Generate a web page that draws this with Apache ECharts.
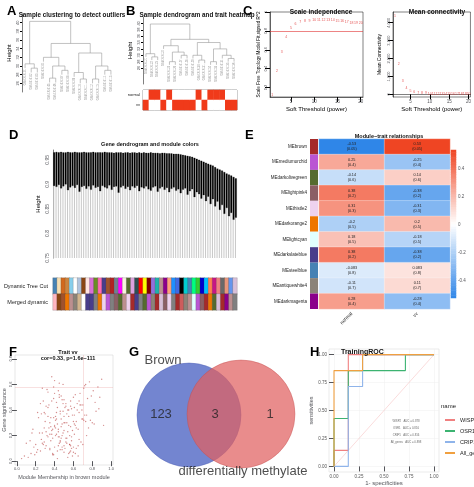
<!DOCTYPE html>
<html><head><meta charset="utf-8">
<script src="https://cdn.jsdelivr.net/npm/echarts@6/dist/echarts.min.js"></script>
<style>html,body{margin:0;padding:0;background:#fff}#c{width:474px;height:487px}</style>
</head><body><div id="c"></div>
<script>
// ---------- DATA ----------
const treeA = [40.3,[30.5,'L',[29.5,'L','L']],[35.2,[32,'L',[30,[27.2,'L','L'],[29,'L','L']]],[33,[28.5,'L',[27,'L','L']],[30,[27,'L','L'],[29,'L','L']]]]];
const namesA = ['GSM1616101','GSM1616102','GSM1616103','GSM1616104','GSM1616105','GSM1616106','GSM1616107','GSM1616108','GSM1616109','GSM1616110','GSM1616111','GSM1616112','GSM1616113','GSM1616114','GSM1616115'];
const treeB = [39.8,[30.5,'L',[29.5,'L','L']],[35,[33,'L',[31,[28,'L','L'],[30,'L','L']]],[34,[30,'L',[28.5,'L','L']],[32,[28,'L','L'],[30,'L',[29,'L','L']]]]]];
const namesB = ['GSM1616121','GSM1616122','GSM1616123','GSM1616124','GSM1616125','GSM1616126','GSM1616127','GSM1616128','GSM1616129','GSM1616130','GSM1616131','GSM1616132','GSM1616133','GSM1616134','GSM1616135','GSM1616136'];
const traitNormal = [0,1,1,0,1,0,0,0,0,1,0,1,1,1,0,0];
const traitVV     = [1,0,0,1,0,1,1,1,1,0,1,0,0,0,1,1];
const powers = [1,2,3,4,5,6,7,8,9,10,11,12,13,14,15,16,17,18,19,20];
const sftFit = [0.12,0.38,0.58,0.74,0.83,0.87,0.89,0.9,0.905,0.91,0.91,0.91,0.91,0.91,0.905,0.9,0.895,0.885,0.88,0.885];
const meanK = [4350,1700,720,360,210,130,90,65,50,40,33,28,24,21,19,17,15,14,13,12];
const lowerD = [0.897,0.895,0.899,0.892,0.896,0.9,0.888,0.894,0.897,0.893,0.899,0.885,0.895,0.897,0.891,0.896,0.889,0.898,0.893,0.895,0.886,0.897,0.894,0.892,0.898,0.889,0.895,0.896,0.883,0.894,0.897,0.891,0.895,0.888,0.896,0.893,0.897,0.886,0.894,0.892,0.896,0.89,0.887,0.894,0.896,0.885,0.892,0.895,0.889,0.893,0.884,0.891,0.894,0.887,0.89,0.882,0.889,0.892,0.879,0.886,0.89,0.874,0.884,0.88,0.871,0.878,0.866,0.875,0.86,0.87,0.855,0.865,0.848,0.858,0.84,0.852,0.835,0.842,0.828,0.832];
const upperD = [0.965,0.966,0.965,0.966,0.965,0.965,0.966,0.965,0.965,0.966,0.965,0.965,0.965,0.966,0.965,0.965,0.965,0.966,0.965,0.965,0.965,0.965,0.966,0.965,0.965,0.965,0.964,0.965,0.965,0.965,0.964,0.965,0.965,0.964,0.965,0.965,0.964,0.965,0.964,0.965,0.964,0.964,0.965,0.964,0.964,0.964,0.963,0.964,0.964,0.963,0.963,0.963,0.962,0.962,0.962,0.961,0.96,0.959,0.958,0.957,0.956,0.954,0.952,0.95,0.948,0.946,0.944,0.942,0.94,0.938,0.935,0.932,0.93,0.928,0.925,0.922,0.92,0.918,0.915,0.912];
const dynColors = ['#4682b4','#f5deb3','#d2691e','#cd853f','#87ceeb','#ffffff','#b0c4de','#8b4513','#ffe4e1','#da70d6','#6b8e23','#ff69b4','#483d8b','#a0522d','#b22222','#708090','#ff00ff','#f5f5dc','#556b2f','#dda0dd','#2f4f4f','#ff0000','#ffff00','#800000','#9370db','#20b2aa','#bc8f8f','#8b008b','#ffa07a','#1e90ff','#4169e1','#000000','#00ced1','#4682b4','#00ff7f','#32cd32','#0000cd','#00bfff','#ff7f50','#c71585','#f08080','#696969','#e9967a','#6495ed','#d8bfd8'];
const mergedColors = ['#ffb6c1','#8b4513','#a0522d','#ee7600','#bc8f8f','#8b8378','#d2b48c','#ffffff','#483d8b','#483d8b','#808080','#ee7600','#eed2ee','#ba55d3','#808080','#8b5f65','#556b2f','#bc8f8f','#eed2ee','#a52a2a','#483d8b','#808080','#556b2f','#ba55d3','#8b8378','#a52a2a','#d8bfd8','#8b5f65','#eed2ee','#808080','#a52a2a','#cd5c5c','#8b8378','#bc8f8f','#e0ffff','#ba55d3','#8b5f65','#a52a2a','#ee7600','#556b2f','#d8bfd8','#a52a2a','#8b008b','#bc8f8f','#808080'];
const modules = ['MEbrown','MEmediumorchid','MEdarkolivegreen','MElightpink4','MEthistle2','MEdarkorange2','MElightcyan','MEdarkslateblue','MEsteelblue','MEantiquewhite4','MEdarkmagenta'];
const moduleColors = ['#a52a2a','#ba55d3','#556b2f','#8b5f65','#eed2ee','#ee7600','#e0ffff','#483d8b','#4682b4','#8b8378','#8b008b'];
const traits = ['normal','vv'];
const corNormal = [-0.53,0.25,-0.14,0.38,0.31,-0.2,0.18,0.38,-0.083,-0.11,0.28];
const corVV = [0.53,-0.25,0.14,-0.38,-0.31,0.2,-0.18,-0.38,0.083,0.11,-0.28];
const pVals = ['0.05','0.4','0.6','0.2','0.3','0.5','0.5','0.2','0.8','0.7','0.4'];
const mmBrown = [0.42,0.55,0.31,0.68,0.25,0.47,0.62,0.38,0.51,0.73,0.19,0.44,0.58,0.35,0.81,0.29,0.66,0.49,0.4,0.57,0.12,0.7,0.33,0.53,0.45,0.6,0.22,0.77,0.37,0.5,0.64,0.28,0.86,0.41,0.56,0.15,0.69,0.34,0.48,0.59,0.26,0.75,0.43,0.52,0.08,0.63,0.36,0.46,0.71,0.3,0.54,0.39,0.83,0.21,0.61,0.44,0.5,0.67,0.32,0.57,0.18,0.74,0.4,0.48,0.9,0.27,0.65,0.35,0.55,0.45,0.6,0.05,0.79,0.42,0.52,0.24,0.7,0.38,0.47,0.62,0.33,0.88,0.5,0.56,0.14,0.72,0.43,0.37,0.58,0.29,0.66,0.46,0.53,0.78,0.2,0.61,0.39,0.49,0.84,0.31];
const gsVV = [0.21,0.35,0.12,0.44,0.08,0.27,0.52,0.18,0.3,0.6,0.05,0.25,0.41,0.1,0.55,0.15,0.38,0.22,0.28,0.47,0.03,0.33,0.19,0.37,0.14,0.5,0.09,0.62,0.24,0.07,0.45,0.13,0.58,0.32,0.2,0.06,0.4,0.26,0.11,0.36,0.17,0.49,0.29,0.43,0.04,0.31,0.16,0.39,0.57,0.1,0.23,0.34,0.46,0.07,0.42,0.12,0.3,0.53,0.2,0.08,0.11,0.36,0.27,0.48,0.64,0.14,0.25,0.09,0.4,0.19,0.31,0.02,0.51,0.38,0.15,0.22,0.44,0.06,0.33,0.28,0.35,0.5,0.24,0.13,0.16,0.59,0.42,0.21,0.1,0.26,0.47,0.37,0.18,0.32,0.13,0.29,0.05,0.45,0.39,0.23];
const mmBrown2 = [0.35,0.48,0.52,0.41,0.63,0.29,0.57,0.44,0.38,0.69,0.46,0.33,0.55,0.6,0.27,0.5,0.72,0.4,0.45,0.58,0.36,0.65,0.23,0.53,0.47,0.8,0.31,0.43,0.61,0.39,0.56,0.49,0.17,0.66,0.42,0.54,0.3,0.74,0.37,0.51,0.59,0.45,0.26,0.68,0.48,0.34,0.62,0.41,0.87,0.52,0.1,0.57,0.39,0.46,0.71,0.32,0.5,0.64,0.44,0.28,0.55,0.36,0.76,0.47,0.4,0.6,0.22,0.53,0.43,0.67,0.35,0.49,0.82,0.58,0.3,0.45,0.63,0.38,0.51,0.7,0.42,0.25,0.56,0.48,0.61,0.33,0.92,0.46,0.54,0.4,0.16,0.59,0.37,0.73,0.44,0.5,0.27,0.65,0.41,0.57];
const gsVV2 = [0.3,0.09,0.45,0.2,0.26,0.38,0.12,0.55,0.05,0.33,0.16,0.42,0.28,0.07,0.22,0.48,0.36,0.11,0.61,0.19,0.27,0.04,0.34,0.14,0.51,0.3,0.43,0.08,0.21,0.58,0.13,0.39,0.25,0.17,0.46,0.03,0.31,0.2,0.66,0.1,0.24,0.52,0.37,0.15,0.29,0.44,0.06,0.35,0.41,0.18,0.14,0.27,0.49,0.09,0.32,0.56,0.12,0.4,0.23,0.47,0.06,0.34,0.26,0.18,0.53,0.11,0.38,0.3,0.02,0.44,0.21,0.6,0.29,0.16,0.37,0.5,0.1,0.25,0.42,0.13,0.33,0.45,0.07,0.2,0.36,0.54,0.28,0.15,0.4,0.63,0.22,0.04,0.47,0.31,0.19,0.35,0.57,0.12,0.26,0.43];
const vennLabels = ['Brown','differentially methylate'];
const vennCounts = [123,3,1];
const rocNames = ['WISP2','OSR1','CRIP1','All_genes'];
const rocColors = ['#f08080','#3cb371','#8fb4ea','#f0a040'];
const rocFPR = [[0,0,0.143,0.143,1],[0,0,0.143,0.143,0.714,0.714,1],[0,0.143,0.143,0.286,0.286,1],[0,0,0.286,0.286,1]];
const rocTPR = [[0,0.143,0.143,1,1],[0,0.429,0.429,0.857,0.857,1,1],[0,0,0.714,0.714,1,1],[0,0.857,0.857,1,1]];
const rocAUC = ['0.878','0.816','0.816','0.898'];

// ---------- HELPERS ----------
const FONT = 'Liberation Sans';
function layoutTree(t, names, hang){
  const leaves=[], segs=[]; let idx=0;
  function rec(n, ph){
    if(typeof n==='string'){ const b=ph-hang; leaves.push({name:names[idx], value:[idx+1,b]}); idx++; return {x:idx,h:b}; }
    const h=n[0]; const a=rec(n[1],h), c=rec(n[2],h);
    segs.push({coords:[[a.x,a.h],[a.x,h],[c.x,h],[c.x,c.h]]});
    return {x:(a.x+c.x)/2,h};
  }
  rec(t,t[0]); return {leaves,segs};
}
function ax(g, o){ return Object.assign({gridIndex:g, axisLine:{show:true,lineStyle:{color:'#000',width:0.5}}, axisTick:{length:2,lineStyle:{width:0.5}}, axisLabel:{fontSize:4.5,color:'#222',fontFamily:FONT,margin:2}, splitLine:{show:false}}, o); }
function hid(g, o){ return Object.assign({gridIndex:g, show:false, splitLine:{show:false}}, o); }

const A = layoutTree(treeA, namesA, 1.0);
const B = layoutTree(treeB, namesB, 1.0);

const grids=[], xAxes=[], yAxes=[], series=[], visualMaps=[];
function gridAdd(o){ grids.push(o); return grids.length-1; }
const dendLabel = {show:true,formatter:p=>p.name,rotate:90,position:'bottom',align:'right',verticalAlign:'middle',distance:1,fontSize:2.6,color:'#777',fontFamily:FONT};

// A
let g = gridAdd({left:22,top:14,width:92,height:78});
xAxes.push(hid(g,{type:'value',min:0.5,max:namesA.length+0.5}));
yAxes.push(ax(g,{type:'value',min:24,max:42,name:'Height',nameLocation:'middle',nameGap:10,nameTextStyle:{fontSize:6,fontFamily:FONT},axisLabel:{fontSize:4,rotate:90,margin:2,customValues:[26,28,30,32,34,36,38,40]},axisTick:{customValues:[26,28,30,32,34,36,38,40],length:2}}));
series.push({type:'lines',coordinateSystem:'cartesian2d',xAxisIndex:xAxes.length-1,yAxisIndex:yAxes.length-1,polyline:true,data:A.segs,lineStyle:{color:'#999',width:0.6,opacity:1},silent:true});
series.push({type:'scatter',xAxisIndex:xAxes.length-1,yAxisIndex:yAxes.length-1,symbolSize:0,data:A.leaves,label:dendLabel});

// B dendro
g = gridAdd({left:143,top:17,width:94,height:67});
xAxes.push(hid(g,{type:'value',min:0.5,max:namesB.length+0.5}));
yAxes.push(ax(g,{type:'value',min:21,max:42,name:'Height',nameLocation:'middle',nameGap:10,nameTextStyle:{fontSize:6,fontFamily:FONT},axisLabel:{fontSize:4,rotate:90,margin:2,customValues:[26,28,30,32,34,36,38,40]},axisTick:{customValues:[26,28,30,32,34,36,38,40],length:2}}));
series.push({type:'lines',coordinateSystem:'cartesian2d',xAxisIndex:xAxes.length-1,yAxisIndex:yAxes.length-1,polyline:true,data:B.segs,lineStyle:{color:'#999',width:0.6,opacity:1},silent:true});
series.push({type:'scatter',xAxisIndex:xAxes.length-1,yAxisIndex:yAxes.length-1,symbolSize:0,data:B.leaves,label:dendLabel});
// B heat
g = gridAdd({left:143,top:90,width:94,height:20,show:true,borderColor:'#000',borderWidth:0.5});
xAxes.push(hid(g,{type:'category',data:namesB}));
yAxes.push(ax(g,{type:'category',data:['vv','normal'],axisLine:{show:false},axisTick:{show:false},axisLabel:{fontSize:4,color:'#222',margin:3}}));
const bHeat=[]; namesB.forEach((n,i)=>{bHeat.push([i,1,traitNormal[i]]); bHeat.push([i,0,traitVV[i]]);});
series.push({type:'heatmap',xAxisIndex:xAxes.length-1,yAxisIndex:yAxes.length-1,data:bHeat});
visualMaps.push({type:'piecewise',show:false,seriesIndex:series.length-1,dimension:2,pieces:[{value:0,color:'#ffffff'},{value:1,color:'#f03a1a'}]});

// C1
g = gridAdd({left:270,top:12,width:93,height:85,show:true,borderColor:'#000',borderWidth:0.5});
xAxes.push(ax(g,{type:'value',min:0.5,max:20.5,name:'Soft Threshold (power)',nameLocation:'middle',nameGap:9,nameTextStyle:{fontSize:6,fontFamily:FONT},axisLabel:{fontSize:4.5,margin:2,customValues:[5,10,15,20]},axisTick:{customValues:[5,10,15,20]}}));
yAxes.push(ax(g,{type:'value',min:0.1,max:1.0,name:'Scale Free Topology Model Fit,signed R^2',nameLocation:'middle',nameGap:9,nameTextStyle:{fontSize:4.6,fontFamily:FONT},axisLabel:{fontSize:4,rotate:90,margin:2,customValues:[0.2,0.4,0.6,0.8,1.0]},axisTick:{customValues:[0.2,0.4,0.6,0.8,1.0]}}));
series.push({type:'scatter',xAxisIndex:xAxes.length-1,yAxisIndex:yAxes.length-1,symbolSize:0,data:powers.map((p,i)=>[p,sftFit[i]]),label:{show:true,position:'inside',formatter:p=>p.value[0],fontSize:3.5,color:'#e03030'},markLine:{silent:true,symbol:'none',label:{show:false},lineStyle:{color:'#e03030',type:'solid',width:0.6},data:[{yAxis:0.8}]}});
// C2
g = gridAdd({left:393,top:12,width:78,height:85,show:true,borderColor:'#000',borderWidth:0.5});
xAxes.push(ax(g,{type:'value',min:0.5,max:20.5,name:'Soft Threshold (power)',nameLocation:'middle',nameGap:9,nameTextStyle:{fontSize:6,fontFamily:FONT},axisLabel:{fontSize:4.5,margin:2,customValues:[5,10,15,20]},axisTick:{customValues:[5,10,15,20]}}));
yAxes.push(ax(g,{type:'value',min:-150,max:4600,name:'Mean Connectivity',nameLocation:'middle',nameGap:11,nameTextStyle:{fontSize:5,fontFamily:FONT},axisLabel:{fontSize:4,rotate:90,margin:2,customValues:[0,1000,2000,3000,4000]},axisTick:{customValues:[0,1000,2000,3000,4000]}}));
series.push({type:'scatter',xAxisIndex:xAxes.length-1,yAxisIndex:yAxes.length-1,symbolSize:0,data:powers.map((p,i)=>[p,meanK[i]]),label:{show:true,position:'inside',formatter:p=>p.value[0],fontSize:3.5,color:'#e03030'}});

// D dendro
g = gridAdd({left:53,top:150,width:184,height:108});
const dCat = lowerD.map((v,i)=>i);
xAxes.push(hid(g,{type:'category',data:dCat}));
yAxes.push(ax(g,{type:'value',min:0.75,max:0.97,name:'Height',nameLocation:'middle',nameGap:12,nameTextStyle:{fontSize:6,fontFamily:FONT},axisLabel:{fontSize:5,rotate:90,margin:3,customValues:[0.75,0.8,0.85,0.9,0.95]},axisTick:{customValues:[0.75,0.8,0.85,0.9,0.95]}}));
let xi=xAxes.length-1, yi=yAxes.length-1;
series.push({type:'bar',xAxisIndex:xi,yAxisIndex:yi,data:lowerD,barWidth:0.5,itemStyle:{color:'#c8c8c8'},barGap:'-100%',barCategoryGap:'0%',silent:true});
series.push({type:'bar',xAxisIndex:xi,yAxisIndex:yi,stack:'d',data:lowerD,itemStyle:{color:'rgba(0,0,0,0)'},barGap:'-100%',barCategoryGap:'0%',silent:true});
series.push({type:'bar',xAxisIndex:xi,yAxisIndex:yi,stack:'d',data:upperD.map((u,i)=>+(u-lowerD[i]).toFixed(4)),itemStyle:{color:'#000',borderColor:'#000',borderWidth:0.3},barGap:'-100%',barCategoryGap:'0%',silent:true});
// D strips
g = gridAdd({left:53,top:278,width:184,height:32});
const palette = Array.from(new Set(dynColors.concat(mergedColors)));
xAxes.push(hid(g,{type:'category',data:dynColors.map((c,i)=>i)}));
yAxes.push(ax(g,{type:'category',data:['Merged dynamic','Dynamic Tree Cut'],axisLine:{show:false},axisTick:{show:false},axisLabel:{fontSize:5.5,color:'#222',margin:5}}));
const strip=[]; dynColors.forEach((c,i)=>strip.push([i,1,palette.indexOf(c)])); mergedColors.forEach((c,i)=>strip.push([i,0,palette.indexOf(c)]));
series.push({type:'heatmap',xAxisIndex:xAxes.length-1,yAxisIndex:yAxes.length-1,data:strip,itemStyle:{borderColor:'#444',borderWidth:0.2}});
visualMaps.push({type:'piecewise',show:false,seriesIndex:series.length-1,dimension:2,pieces:palette.map((c,i)=>({value:i,color:c}))});

// E strip
g = gridAdd({left:310,top:139,width:8,height:170});
xAxes.push(hid(g,{type:'value',min:0,max:1}));
yAxes.push(ax(g,{type:'category',data:modules,inverse:true,axisLine:{show:false},axisTick:{show:false},axisLabel:{fontSize:4.5,color:'#222',margin:3}}));
series.push({type:'bar',xAxisIndex:xAxes.length-1,yAxisIndex:yAxes.length-1,barWidth:'100%',data:modules.map((m,i)=>({value:1,itemStyle:{color:moduleColors[i]}}))});
// E heat
g = gridAdd({left:319,top:139,width:131,height:170});
xAxes.push(ax(g,{type:'category',data:traits,axisLine:{show:false},axisTick:{show:false},axisLabel:{fontSize:5,rotate:45,margin:4,color:'#222'}}));
yAxes.push(hid(g,{type:'category',data:modules,inverse:true}));
const eHeat=[]; modules.forEach((m,i)=>{eHeat.push([0,i,corNormal[i]]); eHeat.push([1,i,corVV[i]]);});
series.push({type:'heatmap',xAxisIndex:xAxes.length-1,yAxisIndex:yAxes.length-1,data:eHeat,
  label:{show:true,fontSize:3.8,color:'#222',lineHeight:5,formatter:p=>p.value[2]+'\n('+pVals[p.value[1]]+')'},itemStyle:{borderColor:'#fff',borderWidth:0.3}});
const eIdx = series.length-1;
// E colorbar
g = gridAdd({left:451,top:150,width:5,height:148});
const cbSteps=[]; for(let k=0;k<60;k++) cbSteps.push(+(-0.52+1.05*(k+0.5)/60).toFixed(4));
xAxes.push(hid(g,{type:'category',data:['c']}));
yAxes.push(hid(g,{type:'category',data:cbSteps}));
const cbY = yAxes.length-1;
yAxes.push(ax(g,{type:'value',min:-0.52,max:0.53,position:'right',axisLine:{show:false},axisLabel:{fontSize:4.5,margin:2,customValues:[-0.4,-0.2,0,0.2,0.4],formatter:v=>v===0?'0':String(v)},axisTick:{customValues:[-0.4,-0.2,0,0.2,0.4],length:2}}));
series.push({type:'heatmap',xAxisIndex:xAxes.length-1,yAxisIndex:cbY,data:cbSteps.map((v,i)=>[0,i,v])});
visualMaps.push({type:'continuous',show:false,seriesIndex:[eIdx,series.length-1],dimension:2,min:-0.52,max:0.53,inRange:{color:['#2f86e8','#ffffff','#ef4523']}});

// F
g = gridAdd({left:13,top:355,width:100,height:110,show:true,borderColor:'#ccc',borderWidth:0.5});
xAxes.push(ax(g,{type:'value',min:-0.02,max:1.02,axisLine:{show:false},name:'Module Membership in brown module',nameLocation:'middle',nameGap:9,nameTextStyle:{fontSize:5.5,fontFamily:FONT},axisLabel:{fontSize:4,margin:2,customValues:[0,0.2,0.4,0.6,0.8,1],formatter:v=>v.toFixed(1)},axisTick:{customValues:[0,0.2,0.4,0.6,0.8,1]}}));
yAxes.push(ax(g,{type:'value',min:-0.03,max:0.83,axisLine:{show:false},name:'Gene significance',nameLocation:'middle',nameGap:8,nameTextStyle:{fontSize:5.5,fontFamily:FONT},axisLabel:{fontSize:4,rotate:90,margin:2,customValues:[0,0.2,0.4,0.6,0.8],formatter:v=>v.toFixed(1)},axisTick:{customValues:[0,0.2,0.4,0.6,0.8]}}));
const fPts = mmBrown.map((x,i)=>[x,gsVV[i]]).concat(mmBrown2.map((x,i)=>[x,gsVV2[i]]));
series.push({type:'scatter',xAxisIndex:xAxes.length-1,yAxisIndex:yAxes.length-1,symbolSize:1.4,itemStyle:{color:'#b84040',opacity:0.6},data:fPts,
  markLine:{silent:true,symbol:'none',label:{show:false},lineStyle:{color:'#e08080',type:'dotted',width:0.5},data:[{xAxis:0.7},{yAxis:0.58}]}});

// G venn
g = gridAdd({left:125,top:355,width:180,height:125});
xAxes.push(hid(g,{type:'value',min:0,max:180}));
yAxes.push(hid(g,{type:'value',min:0,max:125,inverse:true}));
xi=xAxes.length-1; yi=yAxes.length-1;
series.push({type:'scatter',xAxisIndex:xi,yAxisIndex:yi,symbolSize:104,itemStyle:{color:'#5a70c8',opacity:0.85,borderColor:'#4a5ab0',borderWidth:0.5},data:[[64,60]],silent:true,z:1});
series.push({type:'scatter',xAxisIndex:xi,yAxisIndex:yi,symbolSize:108,itemStyle:{color:'#e06060',opacity:0.72,borderColor:'#c04848',borderWidth:0.5},data:[[116,59]],silent:true,z:2});
series.push({type:'scatter',xAxisIndex:xi,yAxisIndex:yi,symbolSize:0,z:5,data:[
  {value:[38,5],name:vennLabels[0]},{value:[36,59],name:String(vennCounts[0])},{value:[90,59],name:String(vennCounts[1])},{value:[145,59],name:String(vennCounts[2])},{value:[118,116],name:vennLabels[1]}],
  label:{show:true,position:'inside',formatter:p=>p.name,fontSize:13,color:'#222',fontFamily:FONT}});

// H ROC
g = gridAdd({left:329,top:349,width:110,height:124,show:true,borderColor:'#ddd',borderWidth:0.6,backgroundColor:'#fff'});
xAxes.push(ax(g,{type:'value',min:-0.05,max:1.05,axisLine:{show:false},splitLine:{show:true,lineStyle:{color:'#eee',width:0.5}},name:'1- specificities',nameLocation:'middle',nameGap:8,nameTextStyle:{fontSize:6,fontFamily:FONT},axisLabel:{fontSize:4.5,margin:2,color:'#555',customValues:[0,0.25,0.5,0.75,1],formatter:v=>v.toFixed(2)},axisTick:{customValues:[0,0.25,0.5,0.75,1]}}));
yAxes.push(ax(g,{type:'value',min:-0.05,max:1.05,axisLine:{show:false},splitLine:{show:true,lineStyle:{color:'#eee',width:0.5}},name:'sensitivities',nameLocation:'middle',nameGap:14,nameTextStyle:{fontSize:5.5,fontFamily:FONT},axisLabel:{fontSize:4.5,margin:2,color:'#555',customValues:[0,0.25,0.5,0.75,1],formatter:v=>v.toFixed(2)},axisTick:{customValues:[0,0.25,0.5,0.75,1]}}));
xi=xAxes.length-1; yi=yAxes.length-1;
series.push({type:'line',xAxisIndex:xi,yAxisIndex:yi,data:[[0,0],[1,1]],symbol:'none',lineStyle:{color:'#f4b8b8',width:0.5},silent:true});
rocNames.forEach((n,k)=>{
  series.push({name:n,type:'line',xAxisIndex:xi,yAxisIndex:yi,symbol:'none',color:rocColors[k],lineStyle:{width:1.1,color:rocColors[k]},data:rocFPR[k].map((x,i)=>[x,rocTPR[k][i]])});
});
series.push({type:'scatter',xAxisIndex:xi,yAxisIndex:yi,symbolSize:0,data:rocNames.map((n,k)=>({value:[0.72,0.4-k*0.06],name:n+'   AUC = '+rocAUC[k]})),label:{show:true,position:'inside',formatter:p=>p.name,fontSize:2.8,color:'#444'}});

const title = [
  ['A',2,0],['B',121,0],['C',238,0],['D',4,124],['E',240,124],['F',4,341],['G',124,341],['H',305,341]
].map(t=>({text:t[0],left:t[1],top:t[2],textStyle:{fontSize:13,fontWeight:'bold',fontFamily:FONT,color:'#000'}}));
[['Sample clustering to detect outliers',67,7,6.3],['Sample dendrogram and trait heatmap',192,7,6.3],['Scale independence',316,3,6.5],['Mean connectivity',432,3,6.5],
 ['Gene dendrogram and module colors',145,136,5.5],['Module\u2212trait relationships',384,128,5.5],['Trait vv\ncor=0.33, p=1.6e\u2212111',63,344,5.5],['TrainingROC',336,343,7,'left']]
 .forEach(t=>title.push({text:t[0],left:t[1],top:t[2],textAlign:t[4]||'center',textStyle:{fontSize:t[3],fontWeight:'bold',fontFamily:FONT,color:'#111',lineHeight:t[3]+1}}));

const option = {
  animation:false, backgroundColor:'#fff', textStyle:{fontFamily:FONT},
  title, grid:grids, xAxis:xAxes, yAxis:yAxes, series, visualMap:visualMaps,
  legend:{data:rocNames,left:440,top:412,orient:'vertical',itemWidth:10,itemHeight:2,itemGap:5,icon:'rect',textStyle:{fontSize:5.5,color:'#222'},selectedMode:false},
  graphic:[{type:'text',left:441,top:403,style:{text:'name',fontSize:6,fill:'#222',fontFamily:FONT}}]
};
const ch = echarts.init(document.getElementById('c'),null,{renderer:'canvas'});
ch.setOption(option);
</script></body></html>
